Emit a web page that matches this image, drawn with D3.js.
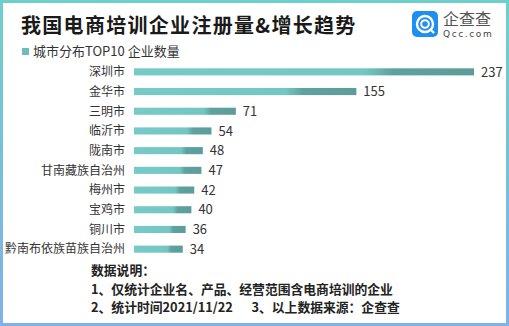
<!DOCTYPE html>
<html><head><meta charset="utf-8">
<script src="https://cdn.jsdelivr.net/npm/d3@7"></script>
<style>
html,body{margin:0;padding:0;background:#fff;}
svg{display:block;font-family:"Microsoft YaHei","Noto Sans CJK SC",sans-serif;}
text{white-space:pre;}
</style></head><body>
<script>
const cities = ["深圳市","金华市","三明市","临沂市","陇南市","甘南藏族自治州","梅州市","宝鸡市","铜川市","黔南布依族苗族自治州"];
const counts = [237,155,71,54,48,47,42,40,36,34];
const titleText = "我国电商培训企业注册量&增长趋势";
const legendText = "城市分布TOP10 企业数量";
const notes = ["数据说明：","1、仅统计企业名、产品、经营范围含电商培训的企业","2、统计时间2021/11/22　  3、以上数据来源：企查查"];

const W=509,H=326;
const svg=d3.select("body").append("svg").attr("width",W).attr("height",H);
const defs=svg.append("defs");
const bg=defs.append("linearGradient").attr("id","border").attr("x1",0).attr("y1",0).attr("x2",0).attr("y2",1);
bg.append("stop").attr("offset","0%").attr("stop-color","#6fcfcb");
bg.append("stop").attr("offset","100%").attr("stop-color","#7fb1ea");
const bar=defs.append("linearGradient").attr("id","bar").attr("x1",0).attr("y1",0).attr("x2",1).attr("y2",0);
bar.append("stop").attr("offset","0%").attr("stop-color","#76cac7");
bar.append("stop").attr("offset","68%").attr("stop-color","#74c6c3");
bar.append("stop").attr("offset","76%").attr("stop-color","#5fa19e");
bar.append("stop").attr("offset","100%").attr("stop-color","#5c9d9a");

svg.append("rect").attr("width",W).attr("height",H).attr("fill","url(#border)");
svg.append("rect").attr("x",3).attr("y",3).attr("width",W-6).attr("height",H-6).attr("fill","#fff");

svg.append("text").attr("x",21).attr("y",33).attr("font-size",20).attr("letter-spacing",1.3).attr("font-weight","bold").attr("fill","#1a1a1a").text(titleText);
svg.append("rect").attr("x",22).attr("y",48).attr("width",7).attr("height",7).attr("fill","#6fbdb9");
svg.append("text").attr("x",33).attr("y",56).attr("font-size",13).attr("fill","#333").text(legendText);

// logo
const lg=svg.append("g").attr("transform","translate(412,11)");
lg.append("rect").attr("width",26).attr("height",26).attr("rx",5).attr("fill","#1e8ff0");
lg.append("circle").attr("cx",13).attr("cy",13).attr("r",8).attr("fill","none").attr("stroke","#fff").attr("stroke-width",2.4);
lg.append("circle").attr("cx",13).attr("cy",13).attr("r",3.8).attr("fill","none").attr("stroke","#fff").attr("stroke-width",2);
lg.append("line").attr("x1",18).attr("y1",18).attr("x2",22).attr("y2",22).attr("stroke","#fff").attr("stroke-width",2.4);
svg.append("text").attr("x",443).attr("y",25).attr("font-size",16).attr("fill","#555").text("企查查");
svg.append("text").attr("x",443).attr("y",37).attr("font-size",9).attr("fill","#444").attr("letter-spacing",1.6).attr("font-family","DejaVu Sans").text("Qcc.com");

const x=d3.scaleLinear().domain([0,237]).range([134,474]);
const y=d3.scaleBand().domain(cities).range([62,259]).paddingInner(0.64).paddingOuter(0.32);
const g=svg.append("g");
g.selectAll("rect.b").data(cities).join("rect").attr("class","b")
  .attr("x",x(0)).attr("y",d=>y(d)).attr("height",y.bandwidth())
  .attr("width",(d,i)=>x(counts[i])-x(0)).attr("fill","url(#bar)");
g.selectAll("text.c").data(cities).join("text").attr("class","c")
  .attr("x",125).attr("y",d=>y(d)+y.bandwidth()/2).attr("dy","0.36em")
  .attr("text-anchor","end").attr("font-size",12).attr("fill","#333").text(d=>d);
g.selectAll("text.v").data(cities).join("text").attr("class","v")
  .attr("x",(d,i)=>x(counts[i])+7).attr("y",d=>y(d)+y.bandwidth()/2).attr("dy","0.36em")
  .attr("font-size",13).attr("fill","#333").text((d,i)=>counts[i]);

svg.selectAll("text.n").data(notes).join("text").attr("class","n")
  .attr("x",91).attr("y",(d,i)=>275+i*18.5).attr("font-size",12.8).attr("font-weight","bold").attr("fill","#222").text(d=>d);
</script></body></html>
